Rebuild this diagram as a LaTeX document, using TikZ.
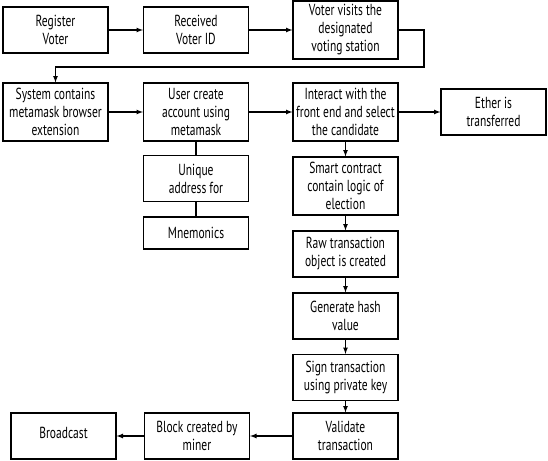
\documentclass[tikz,border=0pt]{standalone}
\usepackage{fontspec}
\setmainfont{PT Sans}[FakeStretch=0.72]
\usetikzlibrary{arrows}
\usetikzlibrary{positioning}
\tikzstyle{box}=[rectangle,draw,line width=1.2pt,minimum width=105pt,minimum height=46pt,inner sep=0pt,align=center,font=\fontsize{16}{18}\selectfont]
\tikzstyle{bigbox}=[box,minimum height=58pt]
\tikzstyle{smallbox}=[box,minimum height=32pt]
\tikzstyle{edge} = [draw,line width=1.2pt,-latex]
\tikzstyle{undirectededge} = [draw,line width=1.2pt]

\begin{document}
\begin{tikzpicture}[x=1pt,y=-1pt]
\useasboundingbox (0,0) rectangle (548,460);

    % First we draw the boxes
    \foreach \pos/\name/\label in {{(55.5,30)/reg/{Register\\Voter}}, {(196,30)/recv/{Received\\Voter ID}}, {(493.5,112)/ether/{Ether is\\transferred}}, {(196,178.5)/uniq/{Unique\\address for}}, {(345.5,254)/raw/{Raw transaction\\object is created}}, {(345.5,316)/hash/{Generate hash\\value}}, {(345.5,377.5)/sign/{Sign transaction\\using private key}}, {(345.5,436)/valid/{Validate\\transaction}}, {(197,436)/block/{Block created by\\miner}}, {(63.5,436)/bcast/{\raisebox{6pt}{Broadcast}}}}
        \node[box] (\name) at \pos {\label};
    \foreach \pos/\name/\label in {{(345.5,30)/visit/{Voter visits the\\designated\\voting station}}, {(55.5,112)/sys/{System contains\\metamask browser\\extension}}, {(196,112)/user/{User create\\account using\\metamask}}, {(345.5,112)/inter/{Interact with the\\front end and select\\the candidate}}, {(345.5,186)/smart/{Smart contract\\contain logic of\\election}}}
        \node[bigbox] (\name) at \pos {\label};
    \node[smallbox] (mnem) at (196,233) {Mnemonics};

    % Connect boxes with arrows
    \foreach \source/ \dest in {reg/recv, recv/visit, sys/user, user/inter, inter/ether, inter/smart, smart/raw, raw/hash, hash/sign, sign/valid, valid/block, block/bcast}
        \path[edge] (\source) -- (\dest);
    \foreach \source/ \dest in {user/uniq, uniq/mnem}
        \path[undirectededge] (\source) -- (\dest);

    % Loop back to the second row
    \coordinate (turn) at (424,67);
    \path[edge] (visit.east) -| (turn) -| (sys.north);

\end{tikzpicture}
\end{document}
